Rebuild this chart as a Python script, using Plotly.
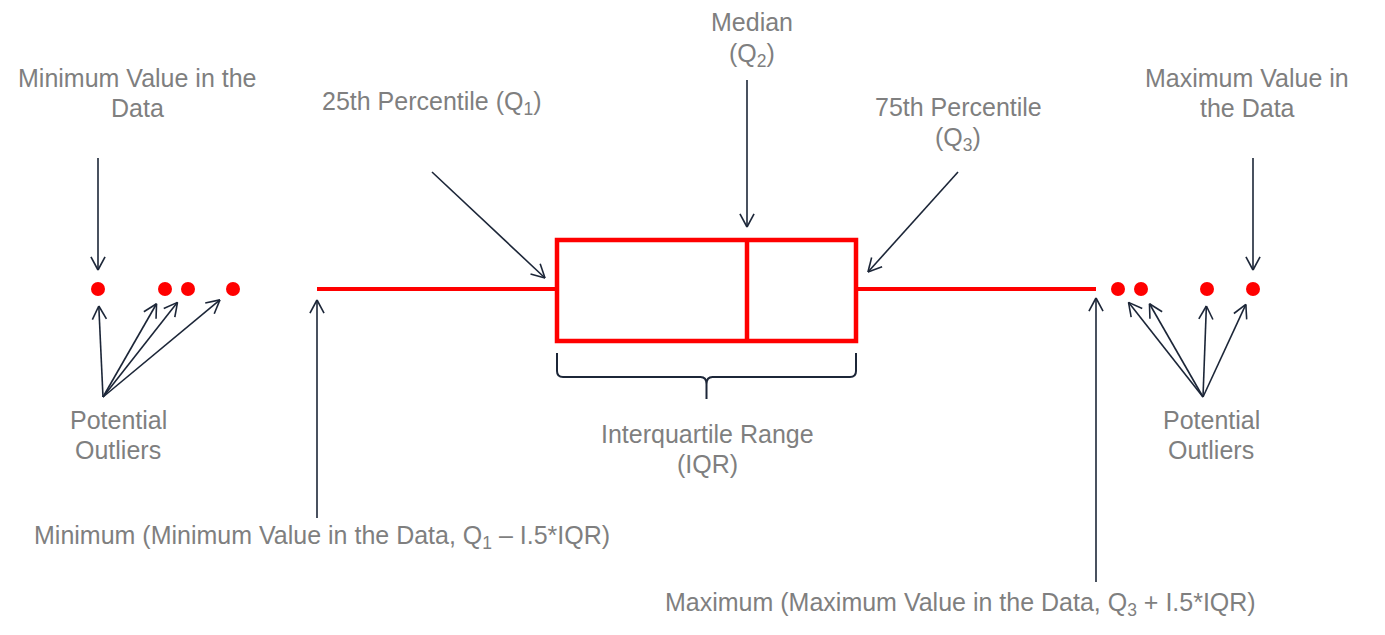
import math
import plotly.graph_objects as go

# ---------------- data (in axis units) ----------------
outliers_low = [98, 165, 188, 233]
outliers_high = [1118, 1141, 1207, 1253]
whisker_low = 317
q1 = 557
median = 747
q3 = 856
whisker_high = 1096
center_y = 289

labels = {
    "min_value": "Minimum Value in the<br>Data",
    "q1": "25th Percentile (Q<sub>1</sub>)",
    "median": "Median<br>(Q<sub>2</sub>)",
    "q3": "75th Percentile<br>(Q<sub>3</sub>)",
    "max_value": "Maximum Value in<br>the Data",
    "out_low": "Potential<br>Outliers",
    "iqr": "Interquartile Range<br>(IQR)",
    "out_high": "Potential<br>Outliers",
    "minimum": "Minimum (Minimum Value in the Data, Q<sub>1</sub> \u2013 I.5*IQR)",
    "maximum": "Maximum (Maximum Value in the Data, Q<sub>3</sub> + I.5*IQR)",
}

RED = "#ff0000"
NAVY = "#1c2638"
GRAY = "#7f7f7f"
FONT = "Liberation Sans, Arial, sans-serif"

fig = go.Figure()

# ---------------- box plot body ----------------
shapes = []
shapes.append(dict(type="line", x0=whisker_low, x1=q1, y0=center_y, y1=center_y,
                   line=dict(color=RED, width=4)))
shapes.append(dict(type="line", x0=q3, x1=whisker_high, y0=center_y, y1=center_y,
                   line=dict(color=RED, width=4)))
shapes.append(dict(type="rect", x0=q1, x1=q3, y0=240, y1=341,
                   line=dict(color=RED, width=4.5), fillcolor="rgba(0,0,0,0)"))
shapes.append(dict(type="line", x0=median, x1=median, y0=240, y1=341,
                   line=dict(color=RED, width=4.5)))

# IQR brace
bx = (q1 + q3) / 2
brace = (f"M{q1},353 L{q1},371 Q{q1},377 {q1+6},377 L{bx-6},377 Q{bx},377 {bx},384 L{bx},399 "
         f"M{bx},384 Q{bx},377 {bx+6},377 L{q3-6},377 Q{q3},377 {q3},371 L{q3},353")
shapes.append(dict(type="path", path=brace, line=dict(color=NAVY, width=2)))

# outliers
fig.add_trace(go.Scatter(x=outliers_low + outliers_high,
                         y=[center_y] * (len(outliers_low) + len(outliers_high)),
                         mode="markers", marker=dict(color=RED, size=14, line=dict(width=0)),
                         hoverinfo="skip", showlegend=False))

# ---------------- arrows ----------------
def toward(tail, dot, gap=17):
    dx, dy = tail[0] - dot[0], tail[1] - dot[1]
    n = math.hypot(dx, dy)
    return (dot[0] + dx / n * gap, dot[1] + dy / n * gap)

arrows = []
arrows.append(((outliers_low[0], 158), (outliers_low[0], 270)))
arrows.append(((432, 172), (q1 - 12, 278)))
arrows.append(((median, 80), (median, 227)))
arrows.append(((958, 172), (q3 + 12, 272)))
arrows.append(((outliers_high[-1], 158), (outliers_high[-1], 270)))
tail_low = (103, 397)
for ox in outliers_low:
    arrows.append((tail_low, toward(tail_low, (ox, center_y))))
tail_high = (1203, 397)
for ox in outliers_high:
    arrows.append((tail_high, toward(tail_high, (ox, center_y))))
arrows.append(((whisker_low, 518), (whisker_low, 300)))
arrows.append(((whisker_high, 582), (whisker_high, 298)))

xs, ys = [], []
L, ang = 15, math.radians(28)
for (x0, y0), (x1, y1) in arrows:
    xs += [x0, x1, None]
    ys += [y0, y1, None]
    dx, dy = x0 - x1, y0 - y1
    n = math.hypot(dx, dy)
    ux, uy = dx / n, dy / n
    for a in (ang, -ang):
        rx = ux * math.cos(a) - uy * math.sin(a)
        ry = ux * math.sin(a) + uy * math.cos(a)
        xs += [x1 + rx * L, x1, None]
        ys += [y1 + ry * L, y1, None]
fig.add_trace(go.Scatter(x=xs, y=ys, mode="lines", line=dict(color=NAVY, width=1.6),
                         hoverinfo="skip", showlegend=False))

# ---------------- labels (one annotation per line, centred on given line y's) ----------------
label_pos = {
    "min_value": (137, [78, 108]),
    "q1": (432, [103]),
    "median": (752, [22, 55]),
    "q3": (958, [107, 139]),
    "max_value": (1247, [78, 108]),
    "out_low": (118, [420, 450]),
    "iqr": (707, [434, 464]),
    "out_high": (1211, [420, 450]),
    "minimum": (322, [537]),
    "maximum": (960, [604]),
}
annotations = []
for k, (x, ylines) in label_pos.items():
    for line, y in zip(labels[k].split("<br>"), ylines):
        annotations.append(dict(x=x, y=y, xref="x", yref="y", text=line, showarrow=False,
                                xanchor="center", yanchor="middle", align="center",
                                font=dict(family=FONT, size=25, color=GRAY)))

# page body has an 8px margin; the axes are offset so axis units equal page pixels
OFF = 8
fig.update_layout(
    width=1385 - OFF, height=635 - OFF, autosize=False,
    margin=dict(l=0, r=0, t=0, b=0),
    paper_bgcolor="white", plot_bgcolor="white",
    xaxis=dict(range=[OFF, 1385], visible=False, fixedrange=True),
    yaxis=dict(range=[635, OFF], visible=False, fixedrange=True),
    shapes=shapes, annotations=annotations, showlegend=False,
)

fig.write_html("out.html")
